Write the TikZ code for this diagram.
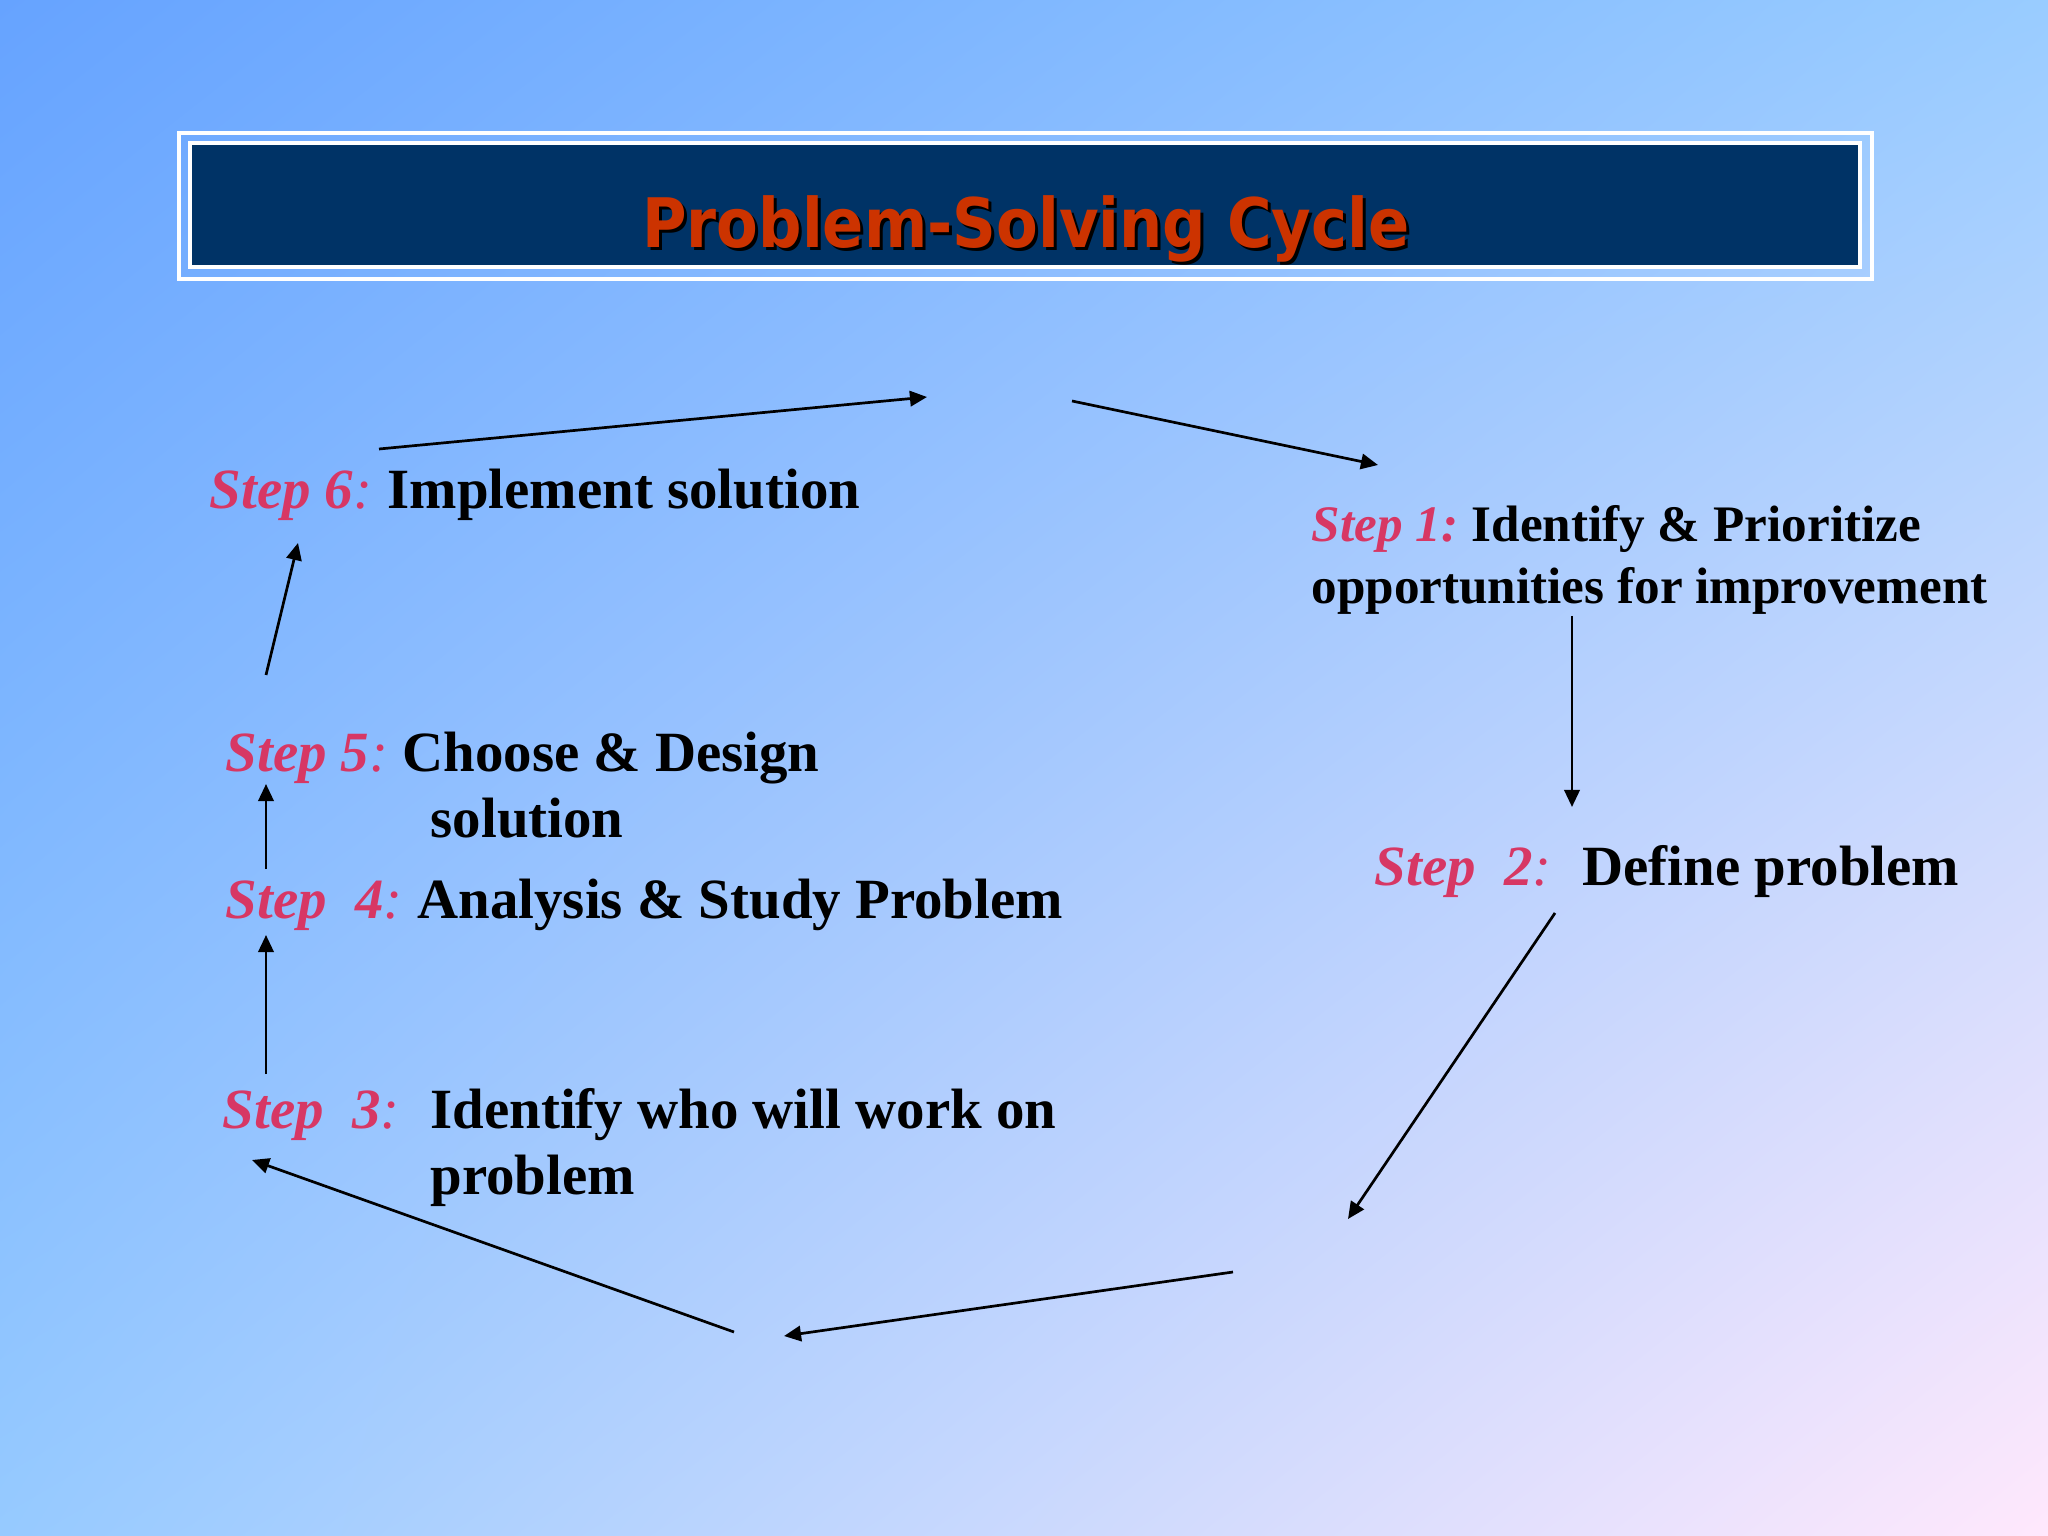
\documentclass[tikz,border=0pt]{standalone}
\usepackage{fontspec}
\setmainfont{Liberation Serif}
\newfontfamily\titlefont{DejaVu Sans}
\usetikzlibrary{arrows.meta,shadings}
\definecolor{tlc}{RGB}{102,163,255}
\definecolor{trc}{RGB}{153,204,255}
\definecolor{blc}{RGB}{150,202,255}
\definecolor{brc}{RGB}{255,232,252}
\definecolor{navy}{RGB}{0,51,102}
\definecolor{titlered}{RGB}{204,51,0}
\definecolor{steppink}{RGB}{215,55,100}
\newcommand{\stp}[1]{{\color{steppink}\bfseries\itshape #1}}
\newcommand{\cln}{{\color{steppink}\mdseries\itshape :}}
\tikzset{
  txt/.style={anchor=base west, inner sep=0pt, font=\fontsize{20pt}{23.5pt}\selectfont\bfseries},
  txts/.style={anchor=base west, inner sep=0pt, font=\fontsize{18pt}{21.6pt}\selectfont\bfseries},
  flow/.style={line width=0.95pt, -{Triangle[length=6pt,width=5.4pt]}}
}
\begin{document}
\begin{tikzpicture}[x=0.3515625pt, y=-0.3515625pt]
\useasboundingbox (0,0) rectangle (2048,1536);
\shade[upper left=tlc, upper right=trc, lower left=blc, lower right=brc] (0,0) rectangle (2048,1536);
% title frame
\draw[white, line width=1.2pt] (179,133) rectangle (1872,279);
\fill[navy] (190,143) rectangle (1860,267);
\draw[white, line width=1.1pt] (190,143) rectangle (1860,267);
\node[inner sep=0pt, anchor=base, font=\titlefont\fontsize{24pt}{28pt}\selectfont\bfseries, text=black] at (1029,251) {\scalebox{0.89}[1]{Problem-Solving Cycle}};
\node (title) [inner sep=0pt, anchor=base, font=\titlefont\fontsize{24pt}{28pt}\selectfont\bfseries, text=titlered] at (1026,248) {\scalebox{0.89}[1]{Problem-Solving Cycle}};
% step texts
\node (s6) [txt] at (209,509) {\makebox[62.6pt][l]{\stp{Step 6}\cln}Implement solution};
\node (s1) [txts] at (1311,542) {\begin{tabular}[t]{@{}l@{}}\makebox[56.3pt][l]{\stp{Step 1:}}Identify \& Prioritize\\opportunities for improvement\end{tabular}};
\node (s2) [txt] at (1374,885) {\makebox[73.1pt][l]{\stp{Step\ \ 2}\cln}Define problem};
\node (s3) [txt] at (222,1128) {\begin{tabular}[t]{@{}l@{}}\makebox[73.1pt][l]{\stp{Step\ \ 3}\cln}Identify who will work on\\\hspace*{73.1pt}problem\end{tabular}};
\node (s4) [txt] at (225,918) {\makebox[67.5pt][l]{\stp{Step\ \ 4}\cln}Analysis \& Study Problem};
\node (s5) [txt] at (225,771) {\begin{tabular}[t]{@{}l@{}}\makebox[62.2pt][l]{\stp{Step 5}\cln}Choose \& Design\\\hspace*{72.1pt}solution\end{tabular}};
% connector end points
\coordinate (a1s) at (379,449); \coordinate (a1e) at (927,397);
\coordinate (a2s) at (1072,401); \coordinate (a2e) at (1378,465);
\coordinate (a3s) at (1572,616); \coordinate (a3e) at (1572,807);
\coordinate (a4s) at (1555,913); \coordinate (a4e) at (1348,1219);
\coordinate (a5s) at (1233,1272); \coordinate (a5e) at (784,1336);
\coordinate (a6s) at (734,1332); \coordinate (a6e) at (252,1160);
\coordinate (a7s) at (266,1074); \coordinate (a7e) at (266,935);
\coordinate (a8s) at (266,869); \coordinate (a8e) at (266,784);
\coordinate (a9s) at (266,675); \coordinate (a9e) at (298,543);
\draw[flow] (a1s) -- (a1e);
\draw[flow] (a2s) -- (a2e);
\draw[flow] (a3s) -- (a3e);
\draw[flow] (a4s) -- (a4e);
\draw[flow] (a5s) -- (a5e);
\draw[flow] (a6s) -- (a6e);
\draw[flow] (a7s) -- (a7e);
\draw[flow] (a8s) -- (a8e);
\draw[flow] (a9s) -- (a9e);
\end{tikzpicture}
\end{document}
